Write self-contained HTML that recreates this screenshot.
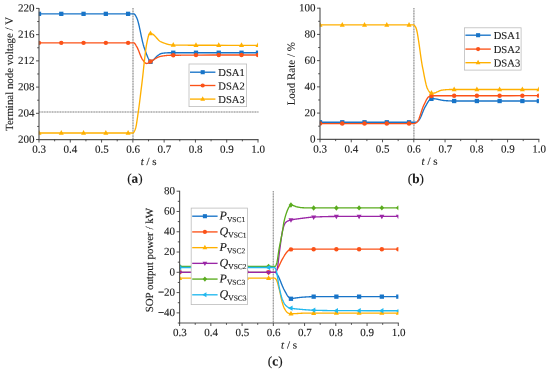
<!DOCTYPE html>
<html><head><meta charset="utf-8"><title>Figure</title>
<style>html,body{margin:0;padding:0;background:#fff}svg{display:block}text{text-rendering:geometricPrecision;font-family:'Liberation Serif', 'Times New Roman', serif;fill:#1a1a1a;stroke:#1a1a1a;stroke-width:0.12}</style></head><body>
<svg width="550" height="373" viewBox="0 0 550 373">
<rect width="550" height="373" fill="#fff"/>
<g>
<path d="M39 112.05H258.5" stroke="#c2c2c2" stroke-width="1.1" fill="none"/>
<path d="M39 112.05H258.5" stroke="#9a9a9a" stroke-width="1.1" stroke-dasharray="1.2 1.4" fill="none"/>
<path d="M133 8.1V139.55" stroke="#c2c2c2" stroke-width="1.1" fill="none"/>
<path d="M133 8.1V139.55" stroke="#9a9a9a" stroke-width="1.1" stroke-dasharray="1.2 1.4" fill="none"/>
<clipPath id="ca"><rect x="38.8" y="4.4" width="219.25" height="135.15"/></clipPath>
<g clip-path="url(#ca)">
<path d="M39 13.84L84.36 13.84L129.73 13.84L131.29 13.84L131.75 13.84L132.22 13.84L132.68 13.84L133.14 13.84L133.6 13.84L134.06 13.89L134.52 14.2L134.98 14.74L135.45 15.44L135.91 16.26L136.37 17.12L136.83 18.02L137.29 19.16L137.75 20.56L138.21 22.19L138.68 24L139.14 25.96L139.6 28.04L140.06 30.21L140.52 32.42L140.98 34.64L141.44 36.84L141.91 38.98L142.37 41.03L142.83 42.95L143.29 44.7L143.75 46.26L144.21 47.67L144.67 49.04L145.14 50.39L145.6 51.7L146.06 52.96L146.52 54.18L146.98 55.34L147.44 56.44L147.9 57.48L148.36 58.45L148.83 59.34L149.29 60.17L149.75 61.04L150.21 61.7L150.67 61.83L151.13 61.65L151.59 61.35L152.06 61L152.52 60.67L152.98 60.29L153.44 59.86L153.9 59.4L154.36 58.91L154.82 58.4L155.29 57.89L155.75 57.39L156.21 56.9L156.67 56.45L157.13 56.04L157.59 55.69L158.05 55.37L158.52 55.06L158.98 54.75L159.44 54.45L159.9 54.17L160.36 53.91L160.82 53.69L161.28 53.51L161.75 53.38L162.21 53.3L162.67 53.24L163.13 53.18L163.59 53.13L164.05 53.08L164.51 53.03L164.98 52.99L165.44 52.95L165.9 52.91L166.36 52.87L166.82 52.84L167.28 52.82L167.74 52.79L168.21 52.77L168.67 52.76L169.13 52.74L169.59 52.73L170.05 52.73L170.51 52.73L170.97 52.73L171.44 52.73L171.9 52.73L172.36 52.73L172.82 52.73L173.28 52.73L173.74 52.73L174.2 52.73L174.67 52.73L175.13 52.73L175.59 52.73L176.05 52.73L176.51 52.73L176.97 52.73L177.43 52.73L177.9 52.73L178.36 52.73L178.82 52.73L179.28 52.73L179.74 52.73L180.2 52.73L180.66 52.73L181.12 52.73L181.59 52.73L182.05 52.73L182.51 52.73L182.97 52.73L183.43 52.73L183.89 52.73L184.35 52.73L184.82 52.73L185.28 52.73L185.74 52.73L186.2 52.73L186.66 52.73L187.12 52.73L187.58 52.73L188.05 52.73L188.51 52.73L188.97 52.73L189.43 52.73L189.89 52.73L190.35 52.73L190.81 52.73L191.28 52.73L191.74 52.73L192.2 52.73L192.66 52.73L193.12 52.73L193.58 52.73L194.04 52.73L194.51 52.73L194.97 52.73L195.43 52.73L198.56 52.73L213.42 52.73L228.28 52.73L243.14 52.73L258 52.73" fill="none" stroke="#1874c8" stroke-width="1.35" stroke-linejoin="round"/>
<rect x="36.86" y="11.7" width="4.28" height="4.28" fill="#1874c8"/>
<rect x="59.14" y="11.7" width="4.28" height="4.28" fill="#1874c8"/>
<rect x="81.41" y="11.7" width="4.28" height="4.28" fill="#1874c8"/>
<rect x="103.69" y="11.7" width="4.28" height="4.28" fill="#1874c8"/>
<rect x="125.96" y="11.7" width="4.28" height="4.28" fill="#1874c8"/>
<rect x="148.36" y="59.7" width="4.28" height="4.28" fill="#1874c8"/>
<rect x="171.11" y="50.59" width="4.28" height="4.28" fill="#1874c8"/>
<rect x="193.85" y="50.59" width="4.28" height="4.28" fill="#1874c8"/>
<rect x="216.6" y="50.59" width="4.28" height="4.28" fill="#1874c8"/>
<rect x="239.37" y="50.59" width="4.28" height="4.28" fill="#1874c8"/>
<rect x="255.86" y="50.59" width="4.28" height="4.28" fill="#1874c8"/>
<path d="M39 42.83L84.36 42.83L129.73 42.83L131.29 42.83L131.75 42.83L132.22 42.83L132.68 42.83L133.14 42.83L133.6 42.83L134.06 42.88L134.52 43.21L134.98 43.76L135.45 44.46L135.91 45.25L136.37 46.04L136.83 46.79L137.29 47.66L137.75 48.64L138.21 49.71L138.68 50.85L139.14 52.03L139.6 53.22L140.06 54.41L140.52 55.55L140.98 56.64L141.44 57.64L141.91 58.53L142.37 59.29L142.83 59.91L143.29 60.53L143.75 61.15L144.21 61.74L144.67 62.28L145.14 62.74L145.6 63.11L146.06 63.37L146.52 63.48L146.98 63.45L147.44 63.33L147.9 63.12L148.36 62.87L148.83 62.57L149.29 62.26L149.75 61.96L150.21 61.67L150.67 61.43L151.13 61.19L151.59 60.93L152.06 60.67L152.52 60.4L152.98 60.13L153.44 59.85L153.9 59.57L154.36 59.29L154.82 59.01L155.29 58.73L155.75 58.46L156.21 58.2L156.67 57.94L157.13 57.7L157.59 57.46L158.05 57.24L158.52 57.04L158.98 56.85L159.44 56.68L159.9 56.53L160.36 56.41L160.82 56.3L161.28 56.22L161.75 56.15L162.21 56.07L162.67 56L163.13 55.93L163.59 55.86L164.05 55.8L164.51 55.73L164.98 55.67L165.44 55.62L165.9 55.57L166.36 55.52L166.82 55.47L167.28 55.43L167.74 55.4L168.21 55.37L168.67 55.34L169.13 55.32L169.59 55.3L170.05 55.29L170.51 55.29L170.97 55.28L171.44 55.28L171.9 55.27L172.36 55.27L172.82 55.26L173.28 55.26L173.74 55.25L174.2 55.25L174.67 55.25L175.13 55.24L175.59 55.24L176.05 55.23L176.51 55.23L176.97 55.23L177.43 55.22L177.9 55.22L178.36 55.22L178.82 55.21L179.28 55.21L179.74 55.2L180.2 55.2L180.66 55.2L181.12 55.19L181.59 55.19L182.05 55.19L182.51 55.18L182.97 55.18L183.43 55.18L183.89 55.17L184.35 55.17L184.82 55.17L185.28 55.16L185.74 55.16L186.2 55.16L186.66 55.15L187.12 55.15L187.58 55.15L188.05 55.14L188.51 55.14L188.97 55.14L189.43 55.13L189.89 55.13L190.35 55.13L190.81 55.13L191.28 55.12L191.74 55.12L192.2 55.12L192.66 55.11L193.12 55.11L193.58 55.11L194.04 55.11L194.51 55.1L194.97 55.1L195.43 55.1L198.56 55.08L213.42 55.02L228.28 54.98L243.14 54.96L258 54.96" fill="none" stroke="#fb5218" stroke-width="1.35" stroke-linejoin="round"/>
<circle cx="39" cy="42.83" r="2.2" fill="#fb5218"/>
<circle cx="61.28" cy="42.83" r="2.2" fill="#fb5218"/>
<circle cx="83.55" cy="42.83" r="2.2" fill="#fb5218"/>
<circle cx="105.83" cy="42.83" r="2.2" fill="#fb5218"/>
<circle cx="128.1" cy="42.83" r="2.2" fill="#fb5218"/>
<circle cx="150.5" cy="61.52" r="2.2" fill="#fb5218"/>
<circle cx="173.25" cy="55.26" r="2.2" fill="#fb5218"/>
<circle cx="195.99" cy="55.09" r="2.2" fill="#fb5218"/>
<circle cx="218.74" cy="55" r="2.2" fill="#fb5218"/>
<circle cx="241.51" cy="54.96" r="2.2" fill="#fb5218"/>
<circle cx="258" cy="54.96" r="2.2" fill="#fb5218"/>
<path d="M39 132.99L84.36 132.99L129.73 132.99L131.29 132.99L131.75 132.99L132.22 132.99L132.68 132.99L133.14 132.92L133.6 132.54L134.06 131.87L134.52 130.99L134.98 129.96L135.45 128.83L135.91 127.14L136.37 124.78L136.83 121.93L137.29 118.8L137.75 115.56L138.21 112.41L138.68 109.2L139.14 105.78L139.6 102.19L140.06 98.48L140.52 94.7L140.98 90.89L141.44 87.09L141.91 83.35L142.37 79.53L142.83 75.46L143.29 71.23L143.75 66.93L144.21 62.65L144.67 58.47L145.14 54.49L145.6 50.79L146.06 47.47L146.52 44.61L146.98 42.3L147.44 40.19L147.9 38.13L148.36 36.25L148.83 34.73L149.29 33.7L149.75 33.32L150.21 33.35L150.67 33.42L151.13 33.52L151.59 33.64L152.06 33.79L152.52 34.01L152.98 34.29L153.44 34.63L153.9 35.01L154.36 35.44L154.82 35.91L155.29 36.4L155.75 36.91L156.21 37.43L156.67 37.96L157.13 38.48L157.59 39L158.05 39.5L158.52 39.98L158.98 40.42L159.44 40.83L159.9 41.2L160.36 41.51L160.82 41.76L161.28 41.95L161.75 42.14L162.21 42.33L162.67 42.51L163.13 42.7L163.59 42.87L164.05 43.05L164.51 43.22L164.98 43.38L165.44 43.54L165.9 43.7L166.36 43.84L166.82 43.99L167.28 44.12L167.74 44.25L168.21 44.37L168.67 44.49L169.13 44.59L169.59 44.69L170.05 44.78L170.51 44.86L170.97 44.93L171.44 44.99L171.9 45.04L172.36 45.08L172.82 45.1L173.28 45.12L173.74 45.12L174.2 45.13L174.67 45.13L175.13 45.13L175.59 45.13L176.05 45.14L176.51 45.14L176.97 45.14L177.43 45.14L177.9 45.15L178.36 45.15L178.82 45.15L179.28 45.16L179.74 45.16L180.2 45.16L180.66 45.16L181.12 45.16L181.59 45.17L182.05 45.17L182.51 45.17L182.97 45.17L183.43 45.18L183.89 45.18L184.35 45.18L184.82 45.18L185.28 45.19L185.74 45.19L186.2 45.19L186.66 45.19L187.12 45.19L187.58 45.2L188.05 45.2L188.51 45.2L188.97 45.2L189.43 45.2L189.89 45.21L190.35 45.21L190.81 45.21L191.28 45.21L191.74 45.21L192.2 45.22L192.66 45.22L193.12 45.22L193.58 45.22L194.04 45.22L194.51 45.22L194.97 45.23L195.43 45.23L198.56 45.24L213.42 45.28L228.28 45.3L243.14 45.32L258 45.32" fill="none" stroke="#ffb000" stroke-width="1.35" stroke-linejoin="round"/>
<path d="M39 129.99L41.5 134.74L36.5 134.74Z" fill="#ffb000"/>
<path d="M61.28 129.99L63.78 134.74L58.78 134.74Z" fill="#ffb000"/>
<path d="M83.55 129.99L86.05 134.74L81.05 134.74Z" fill="#ffb000"/>
<path d="M105.83 129.99L108.33 134.74L103.33 134.74Z" fill="#ffb000"/>
<path d="M128.1 129.99L130.6 134.74L125.6 134.74Z" fill="#ffb000"/>
<path d="M150.5 30.39L153 35.14L148 35.14Z" fill="#ffb000"/>
<path d="M173.25 42.12L175.75 46.87L170.75 46.87Z" fill="#ffb000"/>
<path d="M195.99 42.23L198.49 46.98L193.49 46.98Z" fill="#ffb000"/>
<path d="M218.74 42.29L221.24 47.04L216.24 47.04Z" fill="#ffb000"/>
<path d="M241.51 42.31L244.01 47.06L239.01 47.06Z" fill="#ffb000"/>
<path d="M258 42.32L260.5 47.07L255.5 47.07Z" fill="#ffb000"/>
</g>
<path d="M39 7.9V140.05" stroke="#555555" stroke-width="1.15" fill="none"/>
<path d="M38.5 139.55H258.5" stroke="#555555" stroke-width="1.15" fill="none"/>
<path d="M39 139.55h-3M39 113.32h-3M39 87.09h-3M39 60.86h-3M39 34.63h-3M39 8.4h-3M39 126.44h-1.8M39 100.21h-1.8M39 73.98h-1.8M39 47.75h-1.8M39 21.52h-1.8M39 139.55v3M70.29 139.55v3M101.57 139.55v3M132.86 139.55v3M164.14 139.55v3M195.43 139.55v3M226.71 139.55v3M258 139.55v3M54.64 139.55v1.8M85.93 139.55v1.8M117.21 139.55v1.8M148.5 139.55v1.8M179.79 139.55v1.8M211.07 139.55v1.8M242.36 139.55v1.8" stroke="#404040" stroke-width="0.9" fill="none"/>
<text x="34.5" y="142.65" transform="rotate(0.04 34.5 142.65)" text-anchor="end" font-size="11">200</text>
<text x="34.5" y="116.42" transform="rotate(0.04 34.5 116.42)" text-anchor="end" font-size="11">204</text>
<text x="34.5" y="90.19" transform="rotate(0.04 34.5 90.19)" text-anchor="end" font-size="11">208</text>
<text x="34.5" y="63.96" transform="rotate(0.04 34.5 63.96)" text-anchor="end" font-size="11">212</text>
<text x="34.5" y="37.73" transform="rotate(0.04 34.5 37.73)" text-anchor="end" font-size="11">216</text>
<text x="34.5" y="11.5" transform="rotate(0.04 34.5 11.5)" text-anchor="end" font-size="11">220</text>
<text x="39.2" y="152.65" transform="rotate(0.04 39.2 152.65)" text-anchor="middle" font-size="11">0.3</text>
<text x="70.49" y="152.65" transform="rotate(0.04 70.49 152.65)" text-anchor="middle" font-size="11">0.4</text>
<text x="101.77" y="152.65" transform="rotate(0.04 101.77 152.65)" text-anchor="middle" font-size="11">0.5</text>
<text x="133.06" y="152.65" transform="rotate(0.04 133.06 152.65)" text-anchor="middle" font-size="11">0.6</text>
<text x="164.34" y="152.65" transform="rotate(0.04 164.34 152.65)" text-anchor="middle" font-size="11">0.7</text>
<text x="195.63" y="152.65" transform="rotate(0.04 195.63 152.65)" text-anchor="middle" font-size="11">0.8</text>
<text x="226.91" y="152.65" transform="rotate(0.04 226.91 152.65)" text-anchor="middle" font-size="11">0.9</text>
<text x="258.2" y="152.65" transform="rotate(0.04 258.2 152.65)" text-anchor="middle" font-size="11">1.0</text>
<text x="148.6" y="164.95" transform="rotate(0.04 148.6 164.95)" text-anchor="middle" font-size="11"><tspan font-style="italic">t</tspan> / s</text>
<text transform="translate(12.9 73.98) rotate(-90.04)" text-anchor="middle" font-size="10.9">Terminal node voltage / V</text>
<rect x="189" y="64" width="57.6" height="42.6" fill="#fff" stroke="#bcbcbc" stroke-width="0.8"/>
<path d="M190 72.2H215.4" stroke="#1874c8" stroke-width="1.35" fill="none"/>
<rect x="200.67" y="70.17" width="4.07" height="4.07" fill="#1874c8"/>
<text x="218.3" y="76.1" transform="rotate(0.04 218.3 76.1)" font-size="10.6">DSA1</text>
<path d="M190 85.5H215.4" stroke="#fb5218" stroke-width="1.35" fill="none"/>
<circle cx="202.7" cy="85.5" r="2.09" fill="#fb5218"/>
<text x="218.3" y="89.4" transform="rotate(0.04 218.3 89.4)" font-size="10.6">DSA2</text>
<path d="M190 99.1H215.4" stroke="#ffb000" stroke-width="1.35" fill="none"/>
<path d="M202.7 96.25L205.07 100.76L200.32 100.76Z" fill="#ffb000"/>
<text x="218.3" y="103" transform="rotate(0.04 218.3 103)" font-size="10.6">DSA3</text>
</g>
<g>
<path d="M413.9 7.9V139.3" stroke="#c2c2c2" stroke-width="1.1" fill="none"/>
<path d="M413.9 7.9V139.3" stroke="#9a9a9a" stroke-width="1.1" stroke-dasharray="1.2 1.4" fill="none"/>
<clipPath id="cb"><rect x="319.8" y="4.2" width="219.1" height="135.1"/></clipPath>
<g clip-path="url(#cb)">
<path d="M320 122.26L365.33 122.26L410.67 122.26L412.23 122.26L412.69 122.26L413.15 122.26L413.61 122.26L414.07 122.26L414.54 122.26L415 122.26L415.46 122.25L415.92 122.18L416.38 122.03L416.84 121.8L417.3 121.53L417.76 121.23L418.22 120.91L418.68 120.48L419.15 119.91L419.61 119.19L420.07 118.36L420.53 117.43L420.99 116.43L421.45 115.36L421.91 114.25L422.37 113.12L422.83 111.98L423.3 110.86L423.76 109.77L424.22 108.74L424.68 107.78L425.14 106.9L425.6 106.12L426.06 105.32L426.52 104.49L426.98 103.67L427.45 102.86L427.91 102.09L428.37 101.38L428.83 100.73L429.29 100.17L429.75 99.72L430.21 99.39L430.67 99.17L431.13 98.98L431.6 98.82L432.06 98.7L432.52 98.66L432.98 98.66L433.44 98.68L433.9 98.71L434.36 98.76L434.82 98.81L435.28 98.87L435.75 98.94L436.21 99.02L436.67 99.1L437.13 99.19L437.59 99.28L438.05 99.38L438.51 99.48L438.97 99.58L439.43 99.68L439.9 99.78L440.36 99.88L440.82 99.98L441.28 100.08L441.74 100.17L442.2 100.25L442.66 100.34L443.12 100.41L443.58 100.48L444.04 100.53L444.51 100.58L444.97 100.62L445.43 100.65L445.89 100.68L446.35 100.71L446.81 100.74L447.27 100.76L447.73 100.79L448.19 100.82L448.66 100.84L449.12 100.87L449.58 100.89L450.04 100.91L450.5 100.93L450.96 100.95L451.42 100.97L451.88 100.98L452.34 100.99L452.81 101L453.27 101.01L453.73 101.02L454.19 101.02L454.65 101.02L455.11 101.02L455.57 101.02L456.03 101.02L456.49 101.02L456.96 101.02L457.42 101.02L457.88 101.02L458.34 101.02L458.8 101.02L459.26 101.02L459.72 101.02L460.18 101.02L460.64 101.02L461.11 101.02L461.57 101.02L462.03 101.02L462.49 101.02L462.95 101.02L463.41 101.02L463.87 101.02L464.33 101.02L464.79 101.02L465.26 101.02L465.72 101.02L466.18 101.02L466.64 101.02L467.1 101.02L467.56 101.02L468.02 101.02L468.48 101.02L468.94 101.02L469.41 101.02L469.87 101.02L470.33 101.02L470.79 101.02L471.25 101.02L471.71 101.02L472.17 101.02L472.63 101.02L473.09 101.02L473.55 101.02L474.02 101.02L474.48 101.02L474.94 101.02L475.4 101.02L475.86 101.02L476.32 101.02L479.45 101.02L494.3 101.02L509.15 101.02L524 101.02L538.85 101.02" fill="none" stroke="#1874c8" stroke-width="1.35" stroke-linejoin="round"/>
<rect x="317.86" y="120.12" width="4.28" height="4.28" fill="#1874c8"/>
<rect x="340.12" y="120.12" width="4.28" height="4.28" fill="#1874c8"/>
<rect x="362.38" y="120.12" width="4.28" height="4.28" fill="#1874c8"/>
<rect x="384.64" y="120.12" width="4.28" height="4.28" fill="#1874c8"/>
<rect x="406.9" y="120.12" width="4.28" height="4.28" fill="#1874c8"/>
<rect x="429.29" y="96.73" width="4.28" height="4.28" fill="#1874c8"/>
<rect x="452.02" y="98.88" width="4.28" height="4.28" fill="#1874c8"/>
<rect x="474.74" y="98.88" width="4.28" height="4.28" fill="#1874c8"/>
<rect x="497.47" y="98.88" width="4.28" height="4.28" fill="#1874c8"/>
<rect x="520.23" y="98.88" width="4.28" height="4.28" fill="#1874c8"/>
<rect x="536.71" y="98.88" width="4.28" height="4.28" fill="#1874c8"/>
<path d="M320 123.57L365.33 123.57L410.67 123.57L412.23 123.57L412.69 123.57L413.15 123.57L413.61 123.57L414.07 123.57L414.54 123.53L415 123.4L415.46 123.19L415.92 122.93L416.38 122.64L416.84 122.31L417.3 121.9L417.76 121.26L418.22 120.43L418.68 119.42L419.15 118.28L419.61 117.02L420.07 115.67L420.53 114.27L420.99 112.84L421.45 111.42L421.91 110.02L422.37 108.68L422.83 107.43L423.3 106.29L423.76 105.29L424.22 104.37L424.68 103.42L425.14 102.45L425.6 101.48L426.06 100.54L426.52 99.65L426.98 98.83L427.45 98.1L427.91 97.49L428.37 97.01L428.83 96.68L429.29 96.51L429.75 96.39L430.21 96.27L430.67 96.17L431.13 96.08L431.6 95.99L432.06 95.92L432.52 95.87L432.98 95.82L433.44 95.79L433.9 95.78L434.36 95.77L434.82 95.77L435.28 95.77L435.75 95.77L436.21 95.77L436.67 95.77L437.13 95.77L437.59 95.77L438.05 95.77L438.51 95.77L438.97 95.77L439.43 95.77L439.9 95.77L440.36 95.77L440.82 95.77L441.28 95.77L441.74 95.77L442.2 95.77L442.66 95.77L443.12 95.77L443.58 95.77L444.04 95.77L444.51 95.77L444.97 95.77L445.43 95.77L445.89 95.77L446.35 95.77L446.81 95.77L447.27 95.77L447.73 95.77L448.19 95.77L448.66 95.77L449.12 95.77L449.58 95.77L450.04 95.77L450.5 95.77L450.96 95.77L451.42 95.77L451.88 95.77L452.34 95.77L452.81 95.77L453.27 95.77L453.73 95.77L454.19 95.77L454.65 95.77L455.11 95.77L455.57 95.77L456.03 95.77L456.49 95.77L456.96 95.77L457.42 95.77L457.88 95.77L458.34 95.77L458.8 95.77L459.26 95.77L459.72 95.77L460.18 95.77L460.64 95.77L461.11 95.77L461.57 95.77L462.03 95.77L462.49 95.77L462.95 95.77L463.41 95.77L463.87 95.77L464.33 95.77L464.79 95.77L465.26 95.77L465.72 95.77L466.18 95.77L466.64 95.77L467.1 95.77L467.56 95.77L468.02 95.77L468.48 95.77L468.94 95.77L469.41 95.77L469.87 95.77L470.33 95.77L470.79 95.77L471.25 95.77L471.71 95.77L472.17 95.77L472.63 95.77L473.09 95.77L473.55 95.77L474.02 95.76L474.48 95.76L474.94 95.76L475.4 95.76L475.86 95.76L476.32 95.76L479.45 95.76L494.3 95.74L509.15 95.71L524 95.68L538.85 95.64" fill="none" stroke="#fb5218" stroke-width="1.35" stroke-linejoin="round"/>
<circle cx="320" cy="123.57" r="2.2" fill="#fb5218"/>
<circle cx="342.26" cy="123.57" r="2.2" fill="#fb5218"/>
<circle cx="364.52" cy="123.57" r="2.2" fill="#fb5218"/>
<circle cx="386.78" cy="123.57" r="2.2" fill="#fb5218"/>
<circle cx="409.04" cy="123.57" r="2.2" fill="#fb5218"/>
<circle cx="431.43" cy="96.02" r="2.2" fill="#fb5218"/>
<circle cx="454.16" cy="95.77" r="2.2" fill="#fb5218"/>
<circle cx="476.88" cy="95.76" r="2.2" fill="#fb5218"/>
<circle cx="499.61" cy="95.73" r="2.2" fill="#fb5218"/>
<circle cx="522.37" cy="95.69" r="2.2" fill="#fb5218"/>
<circle cx="538.85" cy="95.64" r="2.2" fill="#fb5218"/>
<path d="M320 24.92L365.33 24.92L410.67 24.92L412.23 24.92L412.69 24.92L413.15 24.92L413.61 24.93L414.07 25.14L414.54 25.58L415 26.18L415.46 26.88L415.92 27.69L416.38 28.98L416.84 30.76L417.3 32.95L417.76 35.5L418.22 38.33L418.68 41.39L419.15 44.61L419.61 47.92L420.07 51.28L420.53 54.6L420.99 57.83L421.45 60.9L421.91 63.75L422.37 66.32L422.83 68.63L423.3 70.99L423.76 73.39L424.22 75.79L424.68 78.13L425.14 80.38L425.6 82.48L426.06 84.41L426.52 86.1L426.98 87.52L427.45 88.63L427.91 89.48L428.37 90.28L428.83 91.03L429.29 91.7L429.75 92.25L430.21 92.68L430.67 92.94L431.13 93.04L431.6 93.08L432.06 93.11L432.52 93.14L432.98 93.15L433.44 93.15L433.9 93.1L434.36 93.02L434.82 92.9L435.28 92.76L435.75 92.59L436.21 92.4L436.67 92.19L437.13 91.98L437.59 91.76L438.05 91.53L438.51 91.31L438.97 91.09L439.43 90.88L439.9 90.69L440.36 90.52L440.82 90.37L441.28 90.25L441.74 90.16L442.2 90.11L442.66 90.05L443.12 90L443.58 89.95L444.04 89.9L444.51 89.86L444.97 89.81L445.43 89.77L445.89 89.73L446.35 89.69L446.81 89.66L447.27 89.63L447.73 89.6L448.19 89.57L448.66 89.55L449.12 89.53L449.58 89.51L450.04 89.5L450.5 89.49L450.96 89.48L451.42 89.48L451.88 89.48L452.34 89.48L452.81 89.48L453.27 89.48L453.73 89.48L454.19 89.48L454.65 89.48L455.11 89.48L455.57 89.48L456.03 89.48L456.49 89.48L456.96 89.48L457.42 89.48L457.88 89.48L458.34 89.48L458.8 89.48L459.26 89.48L459.72 89.48L460.18 89.48L460.64 89.48L461.11 89.48L461.57 89.48L462.03 89.48L462.49 89.48L462.95 89.48L463.41 89.48L463.87 89.48L464.33 89.48L464.79 89.48L465.26 89.48L465.72 89.48L466.18 89.48L466.64 89.48L467.1 89.48L467.56 89.48L468.02 89.48L468.48 89.48L468.94 89.48L469.41 89.48L469.87 89.48L470.33 89.48L470.79 89.48L471.25 89.48L471.71 89.48L472.17 89.48L472.63 89.48L473.09 89.48L473.55 89.48L474.02 89.48L474.48 89.48L474.94 89.48L475.4 89.48L475.86 89.48L476.32 89.48L479.45 89.48L494.3 89.48L509.15 89.48L524 89.48L538.85 89.48" fill="none" stroke="#ffb000" stroke-width="1.35" stroke-linejoin="round"/>
<path d="M320 21.92L322.5 26.67L317.5 26.67Z" fill="#ffb000"/>
<path d="M342.26 21.92L344.76 26.67L339.76 26.67Z" fill="#ffb000"/>
<path d="M364.52 21.92L367.02 26.67L362.02 26.67Z" fill="#ffb000"/>
<path d="M386.78 21.92L389.28 26.67L384.28 26.67Z" fill="#ffb000"/>
<path d="M409.04 21.92L411.54 26.67L406.54 26.67Z" fill="#ffb000"/>
<path d="M431.43 90.07L433.93 94.82L428.93 94.82Z" fill="#ffb000"/>
<path d="M454.16 86.48L456.66 91.23L451.66 91.23Z" fill="#ffb000"/>
<path d="M476.88 86.48L479.38 91.23L474.38 91.23Z" fill="#ffb000"/>
<path d="M499.61 86.48L502.11 91.23L497.11 91.23Z" fill="#ffb000"/>
<path d="M522.37 86.48L524.87 91.23L519.87 91.23Z" fill="#ffb000"/>
<path d="M538.85 86.48L541.35 91.23L536.35 91.23Z" fill="#ffb000"/>
</g>
<path d="M320 7.7V139.8" stroke="#555555" stroke-width="1.15" fill="none"/>
<path d="M319.5 139.3H539.35" stroke="#555555" stroke-width="1.15" fill="none"/>
<path d="M320 139.3h-3M320 113.08h-3M320 86.86h-3M320 60.64h-3M320 34.42h-3M320 8.2h-3M320 126.19h-1.8M320 99.97h-1.8M320 73.75h-1.8M320 47.53h-1.8M320 21.31h-1.8M320 139.3v3M351.26 139.3v3M382.53 139.3v3M413.79 139.3v3M445.06 139.3v3M476.32 139.3v3M507.59 139.3v3M538.85 139.3v3M335.63 139.3v1.8M366.9 139.3v1.8M398.16 139.3v1.8M429.43 139.3v1.8M460.69 139.3v1.8M491.95 139.3v1.8M523.22 139.3v1.8" stroke="#404040" stroke-width="0.9" fill="none"/>
<text x="315.5" y="142.4" transform="rotate(0.04 315.5 142.4)" text-anchor="end" font-size="11">0</text>
<text x="315.5" y="116.18" transform="rotate(0.04 315.5 116.18)" text-anchor="end" font-size="11">20</text>
<text x="315.5" y="89.96" transform="rotate(0.04 315.5 89.96)" text-anchor="end" font-size="11">40</text>
<text x="315.5" y="63.74" transform="rotate(0.04 315.5 63.74)" text-anchor="end" font-size="11">60</text>
<text x="315.5" y="37.52" transform="rotate(0.04 315.5 37.52)" text-anchor="end" font-size="11">80</text>
<text x="315.5" y="11.3" transform="rotate(0.04 315.5 11.3)" text-anchor="end" font-size="11">100</text>
<text x="320.2" y="152.4" transform="rotate(0.04 320.2 152.4)" text-anchor="middle" font-size="11">0.3</text>
<text x="351.46" y="152.4" transform="rotate(0.04 351.46 152.4)" text-anchor="middle" font-size="11">0.4</text>
<text x="382.73" y="152.4" transform="rotate(0.04 382.73 152.4)" text-anchor="middle" font-size="11">0.5</text>
<text x="413.99" y="152.4" transform="rotate(0.04 413.99 152.4)" text-anchor="middle" font-size="11">0.6</text>
<text x="445.26" y="152.4" transform="rotate(0.04 445.26 152.4)" text-anchor="middle" font-size="11">0.7</text>
<text x="476.52" y="152.4" transform="rotate(0.04 476.52 152.4)" text-anchor="middle" font-size="11">0.8</text>
<text x="507.79" y="152.4" transform="rotate(0.04 507.79 152.4)" text-anchor="middle" font-size="11">0.9</text>
<text x="539.05" y="152.4" transform="rotate(0.04 539.05 152.4)" text-anchor="middle" font-size="11">1.0</text>
<text x="429.53" y="164.7" transform="rotate(0.04 429.53 164.7)" text-anchor="middle" font-size="11"><tspan font-style="italic">t</tspan> / s</text>
<text transform="translate(294.7 73.75) rotate(-90.04)" text-anchor="middle" font-size="11">Load Rate / %</text>
<rect x="464.4" y="27.8" width="56.7" height="42.3" fill="#fff" stroke="#bcbcbc" stroke-width="0.8"/>
<path d="M465.4 35.2H490.8" stroke="#1874c8" stroke-width="1.35" fill="none"/>
<rect x="476.07" y="33.17" width="4.07" height="4.07" fill="#1874c8"/>
<text x="493.7" y="39.1" transform="rotate(0.04 493.7 39.1)" font-size="10.6">DSA1</text>
<path d="M465.4 49.1H490.8" stroke="#fb5218" stroke-width="1.35" fill="none"/>
<circle cx="478.1" cy="49.1" r="2.09" fill="#fb5218"/>
<text x="493.7" y="53" transform="rotate(0.04 493.7 53)" font-size="10.6">DSA2</text>
<path d="M465.4 62.7H490.8" stroke="#ffb000" stroke-width="1.35" fill="none"/>
<path d="M478.1 59.85L480.47 64.36L475.72 64.36Z" fill="#ffb000"/>
<text x="493.7" y="66.6" transform="rotate(0.04 493.7 66.6)" font-size="10.6">DSA3</text>
</g>
<g>
<path d="M273.3 190.9V323" stroke="#c2c2c2" stroke-width="1.1" fill="none"/>
<path d="M273.3 190.9V323" stroke="#9a9a9a" stroke-width="1.1" stroke-dasharray="1.2 1.4" fill="none"/>
<clipPath id="cc"><rect x="179.4" y="187.2" width="218.95" height="135.8"/></clipPath>
<g clip-path="url(#cc)">
<path d="M179.6 272.31L224.9 272.31L270.2 272.31L271.77 272.31L272.23 272.31L272.69 272.31L273.15 272.31L273.61 272.31L274.07 272.31L274.53 272.31L274.99 272.31L275.45 272.37L275.91 272.75L276.37 273.32L276.83 273.92L277.3 274.56L277.76 275.31L278.22 276.16L278.68 277.09L279.14 278.08L279.6 279.14L280.06 280.23L280.52 281.35L280.98 282.49L281.44 283.64L281.9 284.77L282.36 285.89L282.83 286.97L283.29 288L283.75 288.98L284.21 289.88L284.67 290.72L285.13 291.57L285.59 292.42L286.05 293.27L286.51 294.08L286.97 294.86L287.43 295.59L287.89 296.25L288.35 296.84L288.82 297.33L289.28 297.75L289.74 298.16L290.2 298.51L290.66 298.73L291.12 298.76L291.58 298.72L292.04 298.63L292.5 298.51L292.96 298.4L293.42 298.3L293.88 298.23L294.34 298.16L294.81 298.09L295.27 298.03L295.73 297.96L296.19 297.9L296.65 297.84L297.11 297.78L297.57 297.72L298.03 297.66L298.49 297.61L298.95 297.55L299.41 297.5L299.87 297.45L300.33 297.4L300.8 297.35L301.26 297.31L301.72 297.27L302.18 297.22L302.64 297.19L303.1 297.15L303.56 297.11L304.02 297.08L304.48 297.05L304.94 297.02L305.4 296.99L305.86 296.97L306.32 296.94L306.79 296.91L307.25 296.88L307.71 296.85L308.17 296.83L308.63 296.8L309.09 296.78L309.55 296.76L310.01 296.74L310.47 296.72L310.93 296.7L311.39 296.68L311.85 296.67L312.31 296.66L312.78 296.65L313.24 296.64L313.7 296.64L314.16 296.64L314.62 296.64L315.08 296.64L315.54 296.64L316 296.64L316.46 296.64L316.92 296.64L317.38 296.64L317.84 296.64L318.3 296.64L318.77 296.64L319.23 296.64L319.69 296.64L320.15 296.64L320.61 296.64L321.07 296.64L321.53 296.64L321.99 296.64L322.45 296.64L322.91 296.64L323.37 296.64L323.83 296.64L324.29 296.64L324.76 296.64L325.22 296.64L325.68 296.64L326.14 296.64L326.6 296.64L327.06 296.64L327.52 296.64L327.98 296.64L328.44 296.64L328.9 296.64L329.36 296.64L329.82 296.64L330.28 296.64L330.75 296.64L331.21 296.64L331.67 296.64L332.13 296.64L332.59 296.64L333.05 296.64L333.51 296.64L333.97 296.64L334.43 296.64L334.89 296.64L335.35 296.64L335.81 296.64L338.94 296.64L353.78 296.64L368.62 296.64L383.46 296.64L398.3 296.64" fill="none" stroke="#1874c8" stroke-width="1.35" stroke-linejoin="round"/>
<rect x="288.81" y="296.63" width="4.28" height="4.28" fill="#1874c8"/>
<rect x="311.52" y="294.5" width="4.28" height="4.28" fill="#1874c8"/>
<rect x="334.24" y="294.5" width="4.28" height="4.28" fill="#1874c8"/>
<rect x="356.95" y="294.5" width="4.28" height="4.28" fill="#1874c8"/>
<rect x="379.7" y="294.5" width="4.28" height="4.28" fill="#1874c8"/>
<rect x="396.16" y="294.5" width="4.28" height="4.28" fill="#1874c8"/>
<path d="M179.6 272.31L224.9 272.31L270.2 272.31L271.77 272.31L272.23 272.31L272.69 272.31L273.15 272.31L273.61 272.31L274.07 272.31L274.53 272.31L274.99 272.29L275.45 271.95L275.91 271.31L276.37 270.59L276.83 269.92L277.3 269.18L277.76 268.37L278.22 267.5L278.68 266.59L279.14 265.64L279.6 264.68L280.06 263.7L280.52 262.73L280.98 261.77L281.44 260.84L281.9 259.94L282.36 259.1L282.83 258.31L283.29 257.53L283.75 256.75L284.21 255.97L284.67 255.21L285.13 254.47L285.59 253.76L286.05 253.1L286.51 252.49L286.97 251.95L287.43 251.48L287.89 251.04L288.35 250.61L288.82 250.22L289.28 249.88L289.74 249.64L290.2 249.5L290.66 249.43L291.12 249.36L291.58 249.31L292.04 249.26L292.5 249.23L292.96 249.21L293.42 249.19L293.88 249.19L294.34 249.19L294.81 249.19L295.27 249.19L295.73 249.19L296.19 249.19L296.65 249.19L297.11 249.19L297.57 249.19L298.03 249.19L298.49 249.19L298.95 249.19L299.41 249.19L299.87 249.19L300.33 249.19L300.8 249.19L301.26 249.19L301.72 249.19L302.18 249.19L302.64 249.19L303.1 249.19L303.56 249.19L304.02 249.19L304.48 249.19L304.94 249.19L305.4 249.19L305.86 249.19L306.32 249.19L306.79 249.19L307.25 249.19L307.71 249.19L308.17 249.19L308.63 249.19L309.09 249.19L309.55 249.19L310.01 249.19L310.47 249.19L310.93 249.19L311.39 249.19L311.85 249.19L312.31 249.19L312.78 249.19L313.24 249.19L313.7 249.19L314.16 249.19L314.62 249.19L315.08 249.19L315.54 249.19L316 249.19L316.46 249.19L316.92 249.19L317.38 249.19L317.84 249.19L318.3 249.19L318.77 249.19L319.23 249.19L319.69 249.19L320.15 249.19L320.61 249.19L321.07 249.19L321.53 249.19L321.99 249.19L322.45 249.19L322.91 249.19L323.37 249.19L323.83 249.19L324.29 249.19L324.76 249.19L325.22 249.19L325.68 249.19L326.14 249.19L326.6 249.19L327.06 249.19L327.52 249.19L327.98 249.19L328.44 249.19L328.9 249.19L329.36 249.19L329.82 249.19L330.28 249.19L330.75 249.19L331.21 249.19L331.67 249.19L332.13 249.19L332.59 249.19L333.05 249.19L333.51 249.19L333.97 249.19L334.43 249.19L334.89 249.19L335.35 249.19L335.81 249.19L338.94 249.19L353.78 249.19L368.62 249.19L383.46 249.19L398.3 249.19" fill="none" stroke="#fb5218" stroke-width="1.35" stroke-linejoin="round"/>
<circle cx="179.6" cy="272.31" r="2.2" fill="#fb5218"/>
<circle cx="201.84" cy="272.31" r="2.2" fill="#fb5218"/>
<circle cx="224.09" cy="272.31" r="2.2" fill="#fb5218"/>
<circle cx="246.33" cy="272.31" r="2.2" fill="#fb5218"/>
<circle cx="268.58" cy="272.31" r="2.2" fill="#fb5218"/>
<circle cx="290.95" cy="249.38" r="2.2" fill="#fb5218"/>
<circle cx="313.66" cy="249.19" r="2.2" fill="#fb5218"/>
<circle cx="336.38" cy="249.19" r="2.2" fill="#fb5218"/>
<circle cx="359.09" cy="249.19" r="2.2" fill="#fb5218"/>
<circle cx="381.84" cy="249.19" r="2.2" fill="#fb5218"/>
<circle cx="398.3" cy="249.19" r="2.2" fill="#fb5218"/>
<path d="M179.6 278.19L224.9 278.19L270.2 278.19L271.77 278.19L272.23 278.19L272.69 278.19L273.15 278.19L273.61 278.19L274.07 278.19L274.53 278.19L274.99 278.2L275.45 278.51L275.91 279.09L276.37 279.78L276.83 280.76L277.3 282.04L277.76 283.55L278.22 285.23L278.68 287.01L279.14 288.84L279.6 290.64L280.06 292.66L280.52 294.94L280.98 297.27L281.44 299.42L281.9 301.19L282.36 302.81L282.83 304.34L283.29 305.76L283.75 307.02L284.21 308.1L284.67 308.96L285.13 309.72L285.59 310.43L286.05 311.08L286.51 311.67L286.97 312.18L287.43 312.59L287.89 312.91L288.35 313.13L288.82 313.31L289.28 313.47L289.74 313.6L290.2 313.71L290.66 313.76L291.12 313.77L291.58 313.77L292.04 313.76L292.5 313.75L292.96 313.74L293.42 313.72L293.88 313.7L294.34 313.68L294.81 313.66L295.27 313.63L295.73 313.61L296.19 313.58L296.65 313.55L297.11 313.52L297.57 313.49L298.03 313.46L298.49 313.43L298.95 313.4L299.41 313.37L299.87 313.34L300.33 313.31L300.8 313.29L301.26 313.26L301.72 313.24L302.18 313.22L302.64 313.2L303.1 313.19L303.56 313.18L304.02 313.17L304.48 313.17L304.94 313.16L305.4 313.16L305.86 313.16L306.32 313.16L306.79 313.16L307.25 313.16L307.71 313.16L308.17 313.16L308.63 313.15L309.09 313.15L309.55 313.15L310.01 313.15L310.47 313.15L310.93 313.15L311.39 313.15L311.85 313.15L312.31 313.15L312.78 313.14L313.24 313.14L313.7 313.14L314.16 313.14L314.62 313.14L315.08 313.14L315.54 313.14L316 313.14L316.46 313.14L316.92 313.14L317.38 313.13L317.84 313.13L318.3 313.13L318.77 313.13L319.23 313.13L319.69 313.13L320.15 313.13L320.61 313.13L321.07 313.13L321.53 313.13L321.99 313.12L322.45 313.12L322.91 313.12L323.37 313.12L323.83 313.12L324.29 313.12L324.76 313.12L325.22 313.12L325.68 313.12L326.14 313.12L326.6 313.12L327.06 313.12L327.52 313.11L327.98 313.11L328.44 313.11L328.9 313.11L329.36 313.11L329.82 313.11L330.28 313.11L330.75 313.11L331.21 313.11L331.67 313.11L332.13 313.11L332.59 313.11L333.05 313.11L333.51 313.1L333.97 313.1L334.43 313.1L334.89 313.1L335.35 313.1L335.81 313.1L338.94 313.1L353.78 313.08L368.62 313.07L383.46 313.07L398.3 313.06" fill="none" stroke="#ffb000" stroke-width="1.35" stroke-linejoin="round"/>
<path d="M179.6 275.19L182.1 279.94L177.1 279.94Z" fill="#ffb000"/>
<path d="M201.84 275.19L204.34 279.94L199.34 279.94Z" fill="#ffb000"/>
<path d="M224.09 275.19L226.59 279.94L221.59 279.94Z" fill="#ffb000"/>
<path d="M246.33 275.19L248.83 279.94L243.83 279.94Z" fill="#ffb000"/>
<path d="M268.58 275.19L271.08 279.94L266.08 279.94Z" fill="#ffb000"/>
<path d="M290.95 310.77L293.45 315.52L288.45 315.52Z" fill="#ffb000"/>
<path d="M313.66 310.14L316.16 314.89L311.16 314.89Z" fill="#ffb000"/>
<path d="M336.38 310.1L338.88 314.85L333.88 314.85Z" fill="#ffb000"/>
<path d="M359.09 310.08L361.59 314.83L356.59 314.83Z" fill="#ffb000"/>
<path d="M381.84 310.07L384.34 314.82L379.34 314.82Z" fill="#ffb000"/>
<path d="M398.3 310.06L400.8 314.81L395.8 314.81Z" fill="#ffb000"/>
<path d="M179.6 272.31L224.9 272.31L270.2 272.31L271.77 272.31L272.23 272.31L272.69 272.31L273.15 272.31L273.61 272.31L274.07 272.31L274.53 272.31L274.99 272.31L275.45 272.31L275.91 272.04L276.37 271.18L276.83 269.97L277.3 268.47L277.76 265.88L278.22 262.41L278.68 258.46L279.14 254.43L279.6 250.74L280.06 247.42L280.52 243.94L280.98 240.45L281.44 237.1L281.9 234.06L282.36 231.51L282.83 229.56L283.29 227.9L283.75 226.38L284.21 225.05L284.67 223.95L285.13 223.11L285.59 222.55L286.05 222.13L286.51 221.77L286.97 221.47L287.43 221.21L287.89 220.99L288.35 220.79L288.82 220.61L289.28 220.45L289.74 220.3L290.2 220.17L290.66 220.06L291.12 219.96L291.58 219.86L292.04 219.76L292.5 219.67L292.96 219.59L293.42 219.5L293.88 219.42L294.34 219.35L294.81 219.27L295.27 219.2L295.73 219.13L296.19 219.06L296.65 219L297.11 218.93L297.57 218.87L298.03 218.81L298.49 218.75L298.95 218.69L299.41 218.63L299.87 218.57L300.33 218.51L300.8 218.45L301.26 218.4L301.72 218.34L302.18 218.28L302.64 218.22L303.1 218.16L303.56 218.1L304.02 218.04L304.48 217.98L304.94 217.91L305.4 217.86L305.86 217.8L306.32 217.74L306.79 217.68L307.25 217.62L307.71 217.57L308.17 217.52L308.63 217.47L309.09 217.42L309.55 217.37L310.01 217.32L310.47 217.28L310.93 217.24L311.39 217.2L311.85 217.16L312.31 217.13L312.78 217.1L313.24 217.07L313.7 217.05L314.16 217.03L314.62 217.01L315.08 216.99L315.54 216.97L316 216.95L316.46 216.93L316.92 216.91L317.38 216.89L317.84 216.87L318.3 216.85L318.77 216.83L319.23 216.82L319.69 216.8L320.15 216.78L320.61 216.76L321.07 216.75L321.53 216.73L321.99 216.72L322.45 216.7L322.91 216.69L323.37 216.67L323.83 216.66L324.29 216.64L324.76 216.63L325.22 216.62L325.68 216.6L326.14 216.59L326.6 216.58L327.06 216.57L327.52 216.56L327.98 216.55L328.44 216.54L328.9 216.53L329.36 216.52L329.82 216.51L330.28 216.5L330.75 216.49L331.21 216.49L331.67 216.48L332.13 216.48L332.59 216.47L333.05 216.46L333.51 216.46L333.97 216.46L334.43 216.45L334.89 216.45L335.35 216.45L335.81 216.44L338.94 216.43L353.78 216.39L368.62 216.36L383.46 216.35L398.3 216.34" fill="none" stroke="#9a26a6" stroke-width="1.35" stroke-linejoin="round"/>
<path d="M179.6 275.18L182.1 270.68L177.1 270.68Z" fill="#9a26a6"/>
<path d="M201.84 275.18L204.34 270.68L199.34 270.68Z" fill="#9a26a6"/>
<path d="M224.09 275.18L226.59 270.68L221.59 270.68Z" fill="#9a26a6"/>
<path d="M246.33 275.18L248.83 270.68L243.83 270.68Z" fill="#9a26a6"/>
<path d="M268.58 275.18L271.08 270.68L266.08 270.68Z" fill="#9a26a6"/>
<path d="M290.95 222.87L293.45 218.37L288.45 218.37Z" fill="#9a26a6"/>
<path d="M313.66 219.93L316.16 215.43L311.16 215.43Z" fill="#9a26a6"/>
<path d="M336.38 219.32L338.88 214.82L333.88 214.82Z" fill="#9a26a6"/>
<path d="M359.09 219.26L361.59 214.76L356.59 214.76Z" fill="#9a26a6"/>
<path d="M381.84 219.22L384.34 214.72L379.34 214.72Z" fill="#9a26a6"/>
<path d="M398.3 219.22L400.8 214.72L395.8 214.72Z" fill="#9a26a6"/>
<path d="M179.6 266.33L224.9 266.33L270.2 266.33L271.77 266.33L272.23 266.33L272.69 266.33L273.15 266.33L273.61 266.33L274.07 266.33L274.53 266.33L274.99 266.33L275.45 266.21L275.91 265.49L276.37 264.33L276.83 262.96L277.3 260.81L277.76 257.83L278.22 254.5L278.68 251.3L279.14 248.6L279.6 246.14L280.06 243.79L280.52 241.5L280.98 239.23L281.44 236.92L281.9 234.53L282.36 232L282.83 229.25L283.29 225.95L283.75 222.97L284.21 220.82L284.67 218.89L285.13 217.15L285.59 215.58L286.05 214.14L286.51 212.81L286.97 211.56L287.43 210.35L287.89 209.21L288.35 208.18L288.82 207.29L289.28 206.59L289.74 205.98L290.2 205.43L290.66 205.06L291.12 204.99L291.58 205.07L292.04 205.2L292.5 205.34L292.96 205.47L293.42 205.62L293.88 205.79L294.34 205.97L294.81 206.15L295.27 206.33L295.73 206.5L296.19 206.66L296.65 206.79L297.11 206.89L297.57 207L298.03 207.1L298.49 207.19L298.95 207.28L299.41 207.36L299.87 207.44L300.33 207.51L300.8 207.56L301.26 207.61L301.72 207.65L302.18 207.68L302.64 207.71L303.1 207.75L303.56 207.78L304.02 207.81L304.48 207.83L304.94 207.86L305.4 207.88L305.86 207.9L306.32 207.91L306.79 207.92L307.25 207.93L307.71 207.93L308.17 207.93L308.63 207.93L309.09 207.93L309.55 207.93L310.01 207.93L310.47 207.93L310.93 207.93L311.39 207.93L311.85 207.93L312.31 207.93L312.78 207.93L313.24 207.93L313.7 207.93L314.16 207.93L314.62 207.93L315.08 207.93L315.54 207.93L316 207.93L316.46 207.93L316.92 207.93L317.38 207.93L317.84 207.93L318.3 207.93L318.77 207.93L319.23 207.93L319.69 207.93L320.15 207.93L320.61 207.93L321.07 207.93L321.53 207.93L321.99 207.93L322.45 207.93L322.91 207.93L323.37 207.93L323.83 207.93L324.29 207.93L324.76 207.93L325.22 207.93L325.68 207.93L326.14 207.93L326.6 207.93L327.06 207.93L327.52 207.93L327.98 207.93L328.44 207.93L328.9 207.93L329.36 207.93L329.82 207.93L330.28 207.93L330.75 207.93L331.21 207.93L331.67 207.93L332.13 207.93L332.59 207.93L333.05 207.93L333.51 207.93L333.97 207.93L334.43 207.93L334.89 207.93L335.35 207.93L335.81 207.93L338.94 207.92L353.78 207.92L368.62 207.9L383.46 207.87L398.3 207.83" fill="none" stroke="#5aac1e" stroke-width="1.35" stroke-linejoin="round"/>
<path d="M179.6 263.63L181.89 266.33L179.6 269.03L177.31 266.33Z" fill="#5aac1e"/>
<path d="M201.84 263.63L204.14 266.33L201.84 269.03L199.55 266.33Z" fill="#5aac1e"/>
<path d="M224.09 263.63L226.38 266.33L224.09 269.03L221.79 266.33Z" fill="#5aac1e"/>
<path d="M246.33 263.63L248.63 266.33L246.33 269.03L244.04 266.33Z" fill="#5aac1e"/>
<path d="M268.58 263.63L270.87 266.33L268.58 269.03L266.28 266.33Z" fill="#5aac1e"/>
<path d="M290.95 202.29L293.24 204.99L290.95 207.69L288.65 204.99Z" fill="#5aac1e"/>
<path d="M313.66 205.23L315.96 207.93L313.66 210.63L311.37 207.93Z" fill="#5aac1e"/>
<path d="M336.38 205.23L338.67 207.93L336.38 210.63L334.08 207.93Z" fill="#5aac1e"/>
<path d="M359.09 205.21L361.39 207.91L359.09 210.61L356.8 207.91Z" fill="#5aac1e"/>
<path d="M381.84 205.17L384.13 207.87L381.84 210.57L379.54 207.87Z" fill="#5aac1e"/>
<path d="M398.3 205.13L400.6 207.83L398.3 210.53L396 207.83Z" fill="#5aac1e"/>
<path d="M179.6 267.54L224.9 267.54L270.2 267.54L271.77 267.54L272.23 267.54L272.69 267.54L273.15 267.54L273.61 267.54L274.07 267.54L274.53 267.54L274.99 267.8L275.45 268.52L275.91 269.45L276.37 270.95L276.83 273.12L277.3 275.75L277.76 278.66L278.22 281.62L278.68 284.45L279.14 286.92L279.6 289.03L280.06 291.11L280.52 293.13L280.98 295.02L281.44 296.72L281.9 298.19L282.36 299.41L282.83 300.52L283.29 301.55L283.75 302.49L284.21 303.32L284.67 304.05L285.13 304.66L285.59 305.2L286.05 305.68L286.51 306.13L286.97 306.53L287.43 306.88L287.89 307.17L288.35 307.4L288.82 307.59L289.28 307.76L289.74 307.91L290.2 308.03L290.66 308.14L291.12 308.23L291.58 308.31L292.04 308.39L292.5 308.46L292.96 308.53L293.42 308.6L293.88 308.66L294.34 308.72L294.81 308.78L295.27 308.83L295.73 308.89L296.19 308.94L296.65 308.98L297.11 309.03L297.57 309.08L298.03 309.12L298.49 309.16L298.95 309.2L299.41 309.24L299.87 309.28L300.33 309.32L300.8 309.36L301.26 309.4L301.72 309.44L302.18 309.48L302.64 309.52L303.1 309.55L303.56 309.59L304.02 309.63L304.48 309.67L304.94 309.71L305.4 309.74L305.86 309.78L306.32 309.81L306.79 309.85L307.25 309.88L307.71 309.91L308.17 309.95L308.63 309.98L309.09 310.01L309.55 310.03L310.01 310.06L310.47 310.09L310.93 310.11L311.39 310.14L311.85 310.16L312.31 310.18L312.78 310.2L313.24 310.21L313.7 310.23L314.16 310.24L314.62 310.25L315.08 310.27L315.54 310.28L316 310.29L316.46 310.31L316.92 310.32L317.38 310.33L317.84 310.34L318.3 310.36L318.77 310.37L319.23 310.38L319.69 310.39L320.15 310.4L320.61 310.41L321.07 310.43L321.53 310.44L321.99 310.45L322.45 310.46L322.91 310.47L323.37 310.48L323.83 310.49L324.29 310.49L324.76 310.5L325.22 310.51L325.68 310.52L326.14 310.53L326.6 310.54L327.06 310.54L327.52 310.55L327.98 310.56L328.44 310.56L328.9 310.57L329.36 310.58L329.82 310.58L330.28 310.59L330.75 310.59L331.21 310.6L331.67 310.6L332.13 310.61L332.59 310.61L333.05 310.62L333.51 310.62L333.97 310.62L334.43 310.62L334.89 310.63L335.35 310.63L335.81 310.63L338.94 310.64L353.78 310.68L368.62 310.71L383.46 310.73L398.3 310.73" fill="none" stroke="#22b8ee" stroke-width="1.35" stroke-linejoin="round"/>
<path d="M176.72 267.54L181.22 264.92L181.22 270.17Z" fill="#22b8ee"/>
<path d="M198.97 267.54L203.47 264.92L203.47 270.17Z" fill="#22b8ee"/>
<path d="M221.21 267.54L225.71 264.92L225.71 270.17Z" fill="#22b8ee"/>
<path d="M243.46 267.54L247.96 264.92L247.96 270.17Z" fill="#22b8ee"/>
<path d="M265.7 267.54L270.2 264.92L270.2 270.17Z" fill="#22b8ee"/>
<path d="M288.07 308.2L292.57 305.57L292.57 310.82Z" fill="#22b8ee"/>
<path d="M310.79 310.23L315.29 307.6L315.29 312.85Z" fill="#22b8ee"/>
<path d="M333.5 310.63L338 308.01L338 313.26Z" fill="#22b8ee"/>
<path d="M356.22 310.69L360.72 308.07L360.72 313.32Z" fill="#22b8ee"/>
<path d="M378.96 310.73L383.46 308.1L383.46 313.35Z" fill="#22b8ee"/>
<path d="M395.43 310.73L399.93 308.11L399.93 313.36Z" fill="#22b8ee"/>
</g>
<path d="M179.6 190.7V323.5" stroke="#555555" stroke-width="1.15" fill="none"/>
<path d="M179.1 323H398.8" stroke="#555555" stroke-width="1.15" fill="none"/>
<path d="M179.6 312.86h-3M179.6 292.58h-3M179.6 272.31h-3M179.6 252.03h-3M179.6 231.75h-3M179.6 211.48h-3M179.6 191.2h-3M179.6 323h-1.8M179.6 302.72h-1.8M179.6 282.45h-1.8M179.6 262.17h-1.8M179.6 241.89h-1.8M179.6 221.62h-1.8M179.6 201.34h-1.8M179.6 323v3M210.84 323v3M242.09 323v3M273.33 323v3M304.57 323v3M335.81 323v3M367.06 323v3M398.3 323v3M195.22 323v1.8M226.46 323v1.8M257.71 323v1.8M288.95 323v1.8M320.19 323v1.8M351.44 323v1.8M382.68 323v1.8" stroke="#404040" stroke-width="0.9" fill="none"/>
<text x="175.1" y="315.96" transform="rotate(0.04 175.1 315.96)" text-anchor="end" font-size="11">−40</text>
<text x="175.1" y="295.68" transform="rotate(0.04 175.1 295.68)" text-anchor="end" font-size="11">−20</text>
<text x="175.1" y="275.41" transform="rotate(0.04 175.1 275.41)" text-anchor="end" font-size="11">0</text>
<text x="175.1" y="255.13" transform="rotate(0.04 175.1 255.13)" text-anchor="end" font-size="11">20</text>
<text x="175.1" y="234.85" transform="rotate(0.04 175.1 234.85)" text-anchor="end" font-size="11">40</text>
<text x="175.1" y="214.58" transform="rotate(0.04 175.1 214.58)" text-anchor="end" font-size="11">60</text>
<text x="175.1" y="194.3" transform="rotate(0.04 175.1 194.3)" text-anchor="end" font-size="11">80</text>
<text x="179.8" y="336.1" transform="rotate(0.04 179.8 336.1)" text-anchor="middle" font-size="11">0.3</text>
<text x="211.04" y="336.1" transform="rotate(0.04 211.04 336.1)" text-anchor="middle" font-size="11">0.4</text>
<text x="242.29" y="336.1" transform="rotate(0.04 242.29 336.1)" text-anchor="middle" font-size="11">0.5</text>
<text x="273.53" y="336.1" transform="rotate(0.04 273.53 336.1)" text-anchor="middle" font-size="11">0.6</text>
<text x="304.77" y="336.1" transform="rotate(0.04 304.77 336.1)" text-anchor="middle" font-size="11">0.7</text>
<text x="336.01" y="336.1" transform="rotate(0.04 336.01 336.1)" text-anchor="middle" font-size="11">0.8</text>
<text x="367.26" y="336.1" transform="rotate(0.04 367.26 336.1)" text-anchor="middle" font-size="11">0.9</text>
<text x="398.5" y="336.1" transform="rotate(0.04 398.5 336.1)" text-anchor="middle" font-size="11">1.0</text>
<text x="289.05" y="348.4" transform="rotate(0.04 289.05 348.4)" text-anchor="middle" font-size="11"><tspan font-style="italic">t</tspan> / s</text>
<text transform="translate(153 260.2) rotate(-90.04)" text-anchor="middle" font-size="10.9">SOP output power / kW</text>
<rect x="191.2" y="208.1" width="56.2" height="96.5" fill="#fff" stroke="#bcbcbc" stroke-width="0.8"/>
<path d="M192.2 216.2H217.6" stroke="#1874c8" stroke-width="1.35" fill="none"/>
<rect x="202.87" y="214.17" width="4.07" height="4.07" fill="#1874c8"/>
<text x="219.6" y="219.5" transform="rotate(0.04 219.6 219.5)" font-size="12"><tspan font-style="italic">P</tspan><tspan font-size="7.5" dy="2.4">VSC1</tspan></text>
<path d="M192.2 231.92H217.6" stroke="#fb5218" stroke-width="1.35" fill="none"/>
<circle cx="204.9" cy="231.92" r="2.09" fill="#fb5218"/>
<text x="219.6" y="235.22" transform="rotate(0.04 219.6 235.22)" font-size="12"><tspan font-style="italic">Q</tspan><tspan font-size="7.5" dy="2.4">VSC1</tspan></text>
<path d="M192.2 247.64H217.6" stroke="#ffb000" stroke-width="1.35" fill="none"/>
<path d="M204.9 244.79L207.27 249.3L202.52 249.3Z" fill="#ffb000"/>
<text x="219.6" y="250.94" transform="rotate(0.04 219.6 250.94)" font-size="12"><tspan font-style="italic">P</tspan><tspan font-size="7.5" dy="2.4">VSC2</tspan></text>
<path d="M192.2 263.36H217.6" stroke="#9a26a6" stroke-width="1.35" fill="none"/>
<path d="M204.9 266.09L207.27 261.82L202.52 261.82Z" fill="#9a26a6"/>
<text x="219.6" y="266.66" transform="rotate(0.04 219.6 266.66)" font-size="12"><tspan font-style="italic">Q</tspan><tspan font-size="7.5" dy="2.4">VSC2</tspan></text>
<path d="M192.2 279.08H217.6" stroke="#5aac1e" stroke-width="1.35" fill="none"/>
<path d="M204.9 276.51L207.08 279.08L204.9 281.64L202.72 279.08Z" fill="#5aac1e"/>
<text x="219.6" y="282.38" transform="rotate(0.04 219.6 282.38)" font-size="12"><tspan font-style="italic">P</tspan><tspan font-size="7.5" dy="2.4">VSC3</tspan></text>
<path d="M192.2 294.8H217.6" stroke="#22b8ee" stroke-width="1.35" fill="none"/>
<path d="M202.17 294.8L206.44 292.31L206.44 297.29Z" fill="#22b8ee"/>
<text x="219.6" y="298.1" transform="rotate(0.04 219.6 298.1)" font-size="12"><tspan font-style="italic">Q</tspan><tspan font-size="7.5" dy="2.4">VSC3</tspan></text>
</g>
<text x="134.9" y="182.8" transform="rotate(0.04 134.9 182.8)" text-anchor="middle" font-size="13.2">(<tspan font-weight="bold">a</tspan>)</text>
<text x="415.9" y="182.9" transform="rotate(0.04 415.9 182.9)" text-anchor="middle" font-size="13.2">(<tspan font-weight="bold">b</tspan>)</text>
<text x="275.2" y="365.5" transform="rotate(0.04 275.2 365.5)" text-anchor="middle" font-size="13.2">(<tspan font-weight="bold">c</tspan>)</text>
</svg></body></html>
